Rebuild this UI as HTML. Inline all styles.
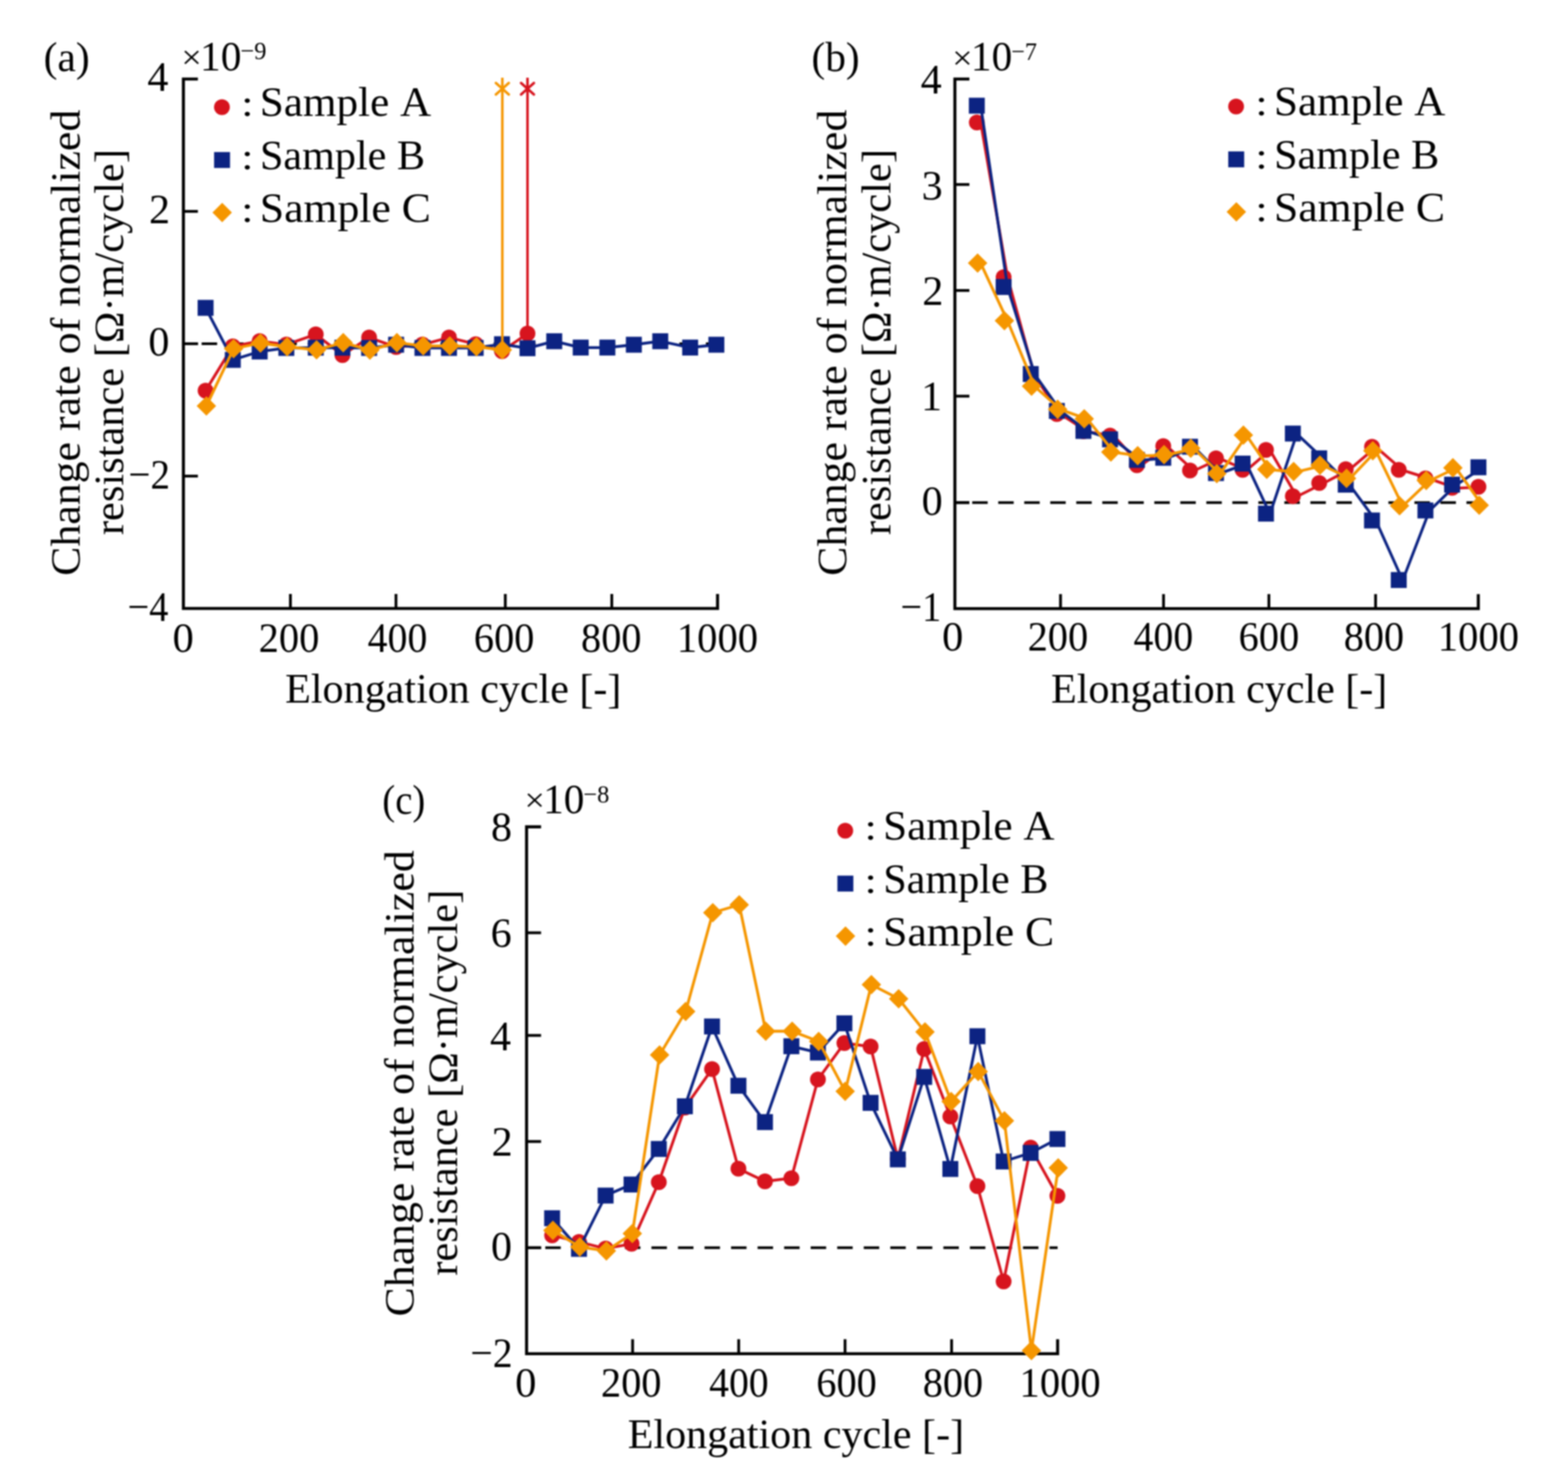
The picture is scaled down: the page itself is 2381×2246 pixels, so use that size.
<!DOCTYPE html>
<html><head><meta charset="utf-8"><title>Figure</title>
<style>html,body{margin:0;padding:0;background:#fff;} svg text{font-kerning:none;}</style>
</head><body>
<svg width="2381" height="2246" viewBox="0 0 2381 2246" font-family="'Liberation Serif', serif" style="display:block;filter:blur(0.8px)">
<rect width="2381" height="2246" fill="#fff"/>
<path d="M300.5 120.0H278.5V924.0H1089.6V902.0" fill="none" stroke="#000" stroke-width="4.6" stroke-linejoin="miter" stroke-linecap="butt"/>
<line x1="278.5" y1="321.0" x2="300.5" y2="321.0" stroke="#000" stroke-width="4.23"/>
<line x1="278.5" y1="522.0" x2="300.5" y2="522.0" stroke="#000" stroke-width="4.23"/>
<line x1="278.5" y1="723.0" x2="300.5" y2="723.0" stroke="#000" stroke-width="4.23"/>
<line x1="441.0" y1="924.0" x2="441.0" y2="902.0" stroke="#000" stroke-width="4.23"/>
<line x1="601.3" y1="924.0" x2="601.3" y2="902.0" stroke="#000" stroke-width="4.23"/>
<line x1="767.3" y1="924.0" x2="767.3" y2="902.0" stroke="#000" stroke-width="4.23"/>
<line x1="929.0" y1="924.0" x2="929.0" y2="902.0" stroke="#000" stroke-width="4.23"/>
<line x1="278.5" y1="522.0" x2="300.5" y2="522.0" stroke="#000" stroke-width="4.0"/>
<line x1="306.2" y1="522.0" x2="1089.6" y2="522.0" stroke="#000" stroke-width="4.0" stroke-dasharray="23.5 16.8"/>
<line x1="801" y1="506.6" x2="801" y2="118" stroke="#D7141E" stroke-width="3.8"/>
<path d="M791.2 126L810.8 143.5M791.2 143.5L810.8 126" stroke="#D7141E" stroke-width="3.8" stroke-linecap="round"/>
<polyline points="312.2,593.2 353.5,526.0 394.3,517.9 434.8,523.3 479.5,507.8 520.0,539.2 560.5,512.6 601.5,527.0 641.5,523.3 681.8,512.5 722.3,522.7 762.3,533.2 801.0,506.6" fill="none" stroke="#D7141E" stroke-width="4.3" stroke-linejoin="round"/>
<circle cx="312.2" cy="593.2" r="12.0" fill="#D7141E"/>
<circle cx="353.5" cy="526.0" r="12.0" fill="#D7141E"/>
<circle cx="394.3" cy="517.9" r="12.0" fill="#D7141E"/>
<circle cx="434.8" cy="523.3" r="12.0" fill="#D7141E"/>
<circle cx="479.5" cy="507.8" r="12.0" fill="#D7141E"/>
<circle cx="520.0" cy="539.2" r="12.0" fill="#D7141E"/>
<circle cx="560.5" cy="512.6" r="12.0" fill="#D7141E"/>
<circle cx="601.5" cy="527.0" r="12.0" fill="#D7141E"/>
<circle cx="641.5" cy="523.3" r="12.0" fill="#D7141E"/>
<circle cx="681.8" cy="512.5" r="12.0" fill="#D7141E"/>
<circle cx="722.3" cy="522.7" r="12.0" fill="#D7141E"/>
<circle cx="762.3" cy="533.2" r="12.0" fill="#D7141E"/>
<circle cx="801.0" cy="506.6" r="12.0" fill="#D7141E"/>
<polyline points="312.2,467.5 353.5,546.5 394.3,533.8 434.8,528.4 479.5,528.0 520.0,528.0 560.5,528.4 601.5,523.5 641.5,528.4 681.8,528.4 722.3,528.4 762.3,522.7 801.0,528.8 841.6,518.2 881.8,527.8 922.3,527.8 962.5,523.5 1002.6,518.2 1048.0,527.8 1087.8,523.5" fill="none" stroke="#0C2382" stroke-width="4.3" stroke-linejoin="round"/>
<rect x="300.1" y="455.4" width="24.2" height="24.2" fill="#0C2382"/>
<rect x="341.4" y="534.4" width="24.2" height="24.2" fill="#0C2382"/>
<rect x="382.2" y="521.7" width="24.2" height="24.2" fill="#0C2382"/>
<rect x="422.7" y="516.3" width="24.2" height="24.2" fill="#0C2382"/>
<rect x="467.4" y="515.9" width="24.2" height="24.2" fill="#0C2382"/>
<rect x="507.9" y="515.9" width="24.2" height="24.2" fill="#0C2382"/>
<rect x="548.4" y="516.3" width="24.2" height="24.2" fill="#0C2382"/>
<rect x="589.4" y="511.4" width="24.2" height="24.2" fill="#0C2382"/>
<rect x="629.4" y="516.3" width="24.2" height="24.2" fill="#0C2382"/>
<rect x="669.7" y="516.3" width="24.2" height="24.2" fill="#0C2382"/>
<rect x="710.2" y="516.3" width="24.2" height="24.2" fill="#0C2382"/>
<rect x="750.2" y="510.6" width="24.2" height="24.2" fill="#0C2382"/>
<rect x="788.9" y="516.7" width="24.2" height="24.2" fill="#0C2382"/>
<rect x="829.5" y="506.1" width="24.2" height="24.2" fill="#0C2382"/>
<rect x="869.7" y="515.7" width="24.2" height="24.2" fill="#0C2382"/>
<rect x="910.2" y="515.7" width="24.2" height="24.2" fill="#0C2382"/>
<rect x="950.4" y="511.4" width="24.2" height="24.2" fill="#0C2382"/>
<rect x="990.5" y="506.1" width="24.2" height="24.2" fill="#0C2382"/>
<rect x="1035.9" y="515.7" width="24.2" height="24.2" fill="#0C2382"/>
<rect x="1075.7" y="511.4" width="24.2" height="24.2" fill="#0C2382"/>
<line x1="762.8" y1="531.3" x2="762.8" y2="118" stroke="#F59600" stroke-width="3.8"/>
<path d="M753.0 126L772.5999999999999 143.5M753.0 143.5L772.5999999999999 126" stroke="#F59600" stroke-width="3.8" stroke-linecap="round"/>
<polyline points="313.4,616.5 354.7,529.5 395.5,521.0 436.0,526.5 480.7,531.3 521.2,520.4 561.7,531.6 602.7,520.4 642.7,525.3 683.0,525.3 723.5,526.5 762.8,531.3" fill="none" stroke="#F59600" stroke-width="4.3" stroke-linejoin="round"/>
<path d="M313.4 601.7L328.2 616.5L313.4 631.3L298.6 616.5Z" fill="#F59600"/>
<path d="M354.7 514.7L369.5 529.5L354.7 544.3L339.9 529.5Z" fill="#F59600"/>
<path d="M395.5 506.2L410.3 521.0L395.5 535.8L380.7 521.0Z" fill="#F59600"/>
<path d="M436.0 511.7L450.8 526.5L436.0 541.3L421.2 526.5Z" fill="#F59600"/>
<path d="M480.7 516.5L495.5 531.3L480.7 546.1L465.9 531.3Z" fill="#F59600"/>
<path d="M521.2 505.6L536.0 520.4L521.2 535.2L506.4 520.4Z" fill="#F59600"/>
<path d="M561.7 516.8L576.5 531.6L561.7 546.4L546.9 531.6Z" fill="#F59600"/>
<path d="M602.7 505.6L617.5 520.4L602.7 535.2L587.9 520.4Z" fill="#F59600"/>
<path d="M642.7 510.5L657.5 525.3L642.7 540.1L627.9 525.3Z" fill="#F59600"/>
<path d="M683.0 510.5L697.8 525.3L683.0 540.1L668.2 525.3Z" fill="#F59600"/>
<path d="M723.5 511.7L738.3 526.5L723.5 541.3L708.7 526.5Z" fill="#F59600"/>
<path d="M762.8 516.5L777.6 531.3L762.8 546.1L748.0 531.3Z" fill="#F59600"/>
<circle cx="337.0" cy="162.8" r="12.0" fill="#D7141E"/>
<rect x="325.1" y="230.9" width="24.2" height="24.2" fill="#0C2382"/>
<path d="M337.4 308.0L352.2 322.8L337.4 337.6L322.6 322.8Z" fill="#F59600"/>
<text transform="translate(366.24,175.80) scale(1.05,0.88)" x="0" y="0" font-size="64">:</text>
<text x="394.62" y="175.80" font-size="64" textLength="260.16" lengthAdjust="spacingAndGlyphs">Sample A</text>
<text transform="translate(366.24,256.80) scale(1.05,0.88)" x="0" y="0" font-size="64">:</text>
<text x="394.72" y="256.80" font-size="64" textLength="250.60" lengthAdjust="spacingAndGlyphs">Sample B</text>
<text transform="translate(366.24,336.80) scale(1.05,0.88)" x="0" y="0" font-size="64">:</text>
<text x="394.56" y="336.80" font-size="64" textLength="259.69" lengthAdjust="spacingAndGlyphs">Sample C</text>
<text x="223.80" y="137.60" font-size="64">4</text>
<text x="226.33" y="338.60" font-size="64">2</text>
<text x="225.24" y="540.40" font-size="64">0</text>
<text x="194.94" y="741.60" font-size="64" textLength="63.13" lengthAdjust="spacingAndGlyphs">−2</text>
<text x="193.70" y="943.00" font-size="64" textLength="62.01" lengthAdjust="spacingAndGlyphs">−4</text>
<text x="261.94" y="989.60" font-size="64" textLength="32.32" lengthAdjust="spacingAndGlyphs">0</text>
<text x="392.80" y="989.60" font-size="64" textLength="92.03" lengthAdjust="spacingAndGlyphs">200</text>
<text x="558.32" y="989.60" font-size="64" textLength="90.48" lengthAdjust="spacingAndGlyphs">400</text>
<text x="719.47" y="989.60" font-size="64" textLength="91.97" lengthAdjust="spacingAndGlyphs">600</text>
<text x="882.37" y="989.60" font-size="64" textLength="91.65" lengthAdjust="spacingAndGlyphs">800</text>
<text x="1027.78" y="989.60" font-size="64" textLength="123.37" lengthAdjust="spacingAndGlyphs">1000</text>
<text x="433.06" y="1066.60" font-size="64" textLength="510.58" lengthAdjust="spacingAndGlyphs">Elongation cycle [-]</text>
<text transform="translate(120.50,871.80) rotate(-90)" x="-2.73" y="0" font-size="64" textLength="707.94" lengthAdjust="spacingAndGlyphs">Change rate of normalized</text>
<text transform="translate(187.20,811.30) rotate(-90)" x="-1.29" y="0" font-size="64" textLength="586.17" lengthAdjust="spacingAndGlyphs">resistance [Ω·m/cycle]</text>
<text x="66.33" y="107.50" font-size="64" textLength="69.94" lengthAdjust="spacingAndGlyphs">(a)</text>
<text x="275.58" y="104.10" font-size="51" textLength="30.78" lengthAdjust="spacingAndGlyphs">×</text>
<text x="303.79" y="106.60" font-size="64" textLength="62.70" lengthAdjust="spacingAndGlyphs">10</text>
<text x="364.95" y="90.30" font-size="38" textLength="39.58" lengthAdjust="spacingAndGlyphs">−9</text>
<path d="M1472.0 120.0H1450.0V924.2H2244.8V902.2" fill="none" stroke="#000" stroke-width="4.6" stroke-linejoin="miter" stroke-linecap="butt"/>
<line x1="1450.0" y1="280.2" x2="1472.0" y2="280.2" stroke="#000" stroke-width="4.23"/>
<line x1="1450.0" y1="441.1" x2="1472.0" y2="441.1" stroke="#000" stroke-width="4.23"/>
<line x1="1450.0" y1="601.6" x2="1472.0" y2="601.6" stroke="#000" stroke-width="4.23"/>
<line x1="1450.0" y1="763.2" x2="1472.0" y2="763.2" stroke="#000" stroke-width="4.23"/>
<line x1="1610.4" y1="924.2" x2="1610.4" y2="902.2" stroke="#000" stroke-width="4.23"/>
<line x1="1766.8" y1="924.2" x2="1766.8" y2="902.2" stroke="#000" stroke-width="4.23"/>
<line x1="1926.8" y1="924.2" x2="1926.8" y2="902.2" stroke="#000" stroke-width="4.23"/>
<line x1="2088.8" y1="924.2" x2="2088.8" y2="902.2" stroke="#000" stroke-width="4.23"/>
<line x1="1450.0" y1="763.3" x2="1472.0" y2="763.3" stroke="#000" stroke-width="4.0"/>
<line x1="1476.3" y1="763.3" x2="2245.0" y2="763.3" stroke="#000" stroke-width="4.0" stroke-dasharray="23.5 16.0"/>
<polyline points="1489.3,186.6 1530.0,421.4 1571.2,571.5 1610.8,629.3 1651.2,655.5 1691.6,662.1 1732.4,706.9 1772.4,678.1 1813.0,714.9 1852.5,696.5 1892.9,714.1 1928.4,683.7 1969.2,754.1 2009.2,734.1 2049.5,712.9 2089.4,678.9 2130.0,714.1 2170.5,726.9 2211.0,741.3 2251.0,739.7" fill="none" stroke="#D7141E" stroke-width="4.3" stroke-linejoin="round"/>
<circle cx="1483.3" cy="186.1" r="12.0" fill="#D7141E"/>
<circle cx="1524.0" cy="420.9" r="12.0" fill="#D7141E"/>
<circle cx="1565.2" cy="571.0" r="12.0" fill="#D7141E"/>
<circle cx="1604.8" cy="628.8" r="12.0" fill="#D7141E"/>
<circle cx="1645.2" cy="655.0" r="12.0" fill="#D7141E"/>
<circle cx="1685.6" cy="661.6" r="12.0" fill="#D7141E"/>
<circle cx="1726.4" cy="706.4" r="12.0" fill="#D7141E"/>
<circle cx="1766.4" cy="677.6" r="12.0" fill="#D7141E"/>
<circle cx="1807.0" cy="714.4" r="12.0" fill="#D7141E"/>
<circle cx="1846.5" cy="696.0" r="12.0" fill="#D7141E"/>
<circle cx="1886.9" cy="713.6" r="12.0" fill="#D7141E"/>
<circle cx="1922.4" cy="683.2" r="12.0" fill="#D7141E"/>
<circle cx="1963.2" cy="753.6" r="12.0" fill="#D7141E"/>
<circle cx="2003.2" cy="733.6" r="12.0" fill="#D7141E"/>
<circle cx="2043.5" cy="712.4" r="12.0" fill="#D7141E"/>
<circle cx="2083.4" cy="678.4" r="12.0" fill="#D7141E"/>
<circle cx="2124.0" cy="713.6" r="12.0" fill="#D7141E"/>
<circle cx="2164.5" cy="726.4" r="12.0" fill="#D7141E"/>
<circle cx="2205.0" cy="740.8" r="12.0" fill="#D7141E"/>
<circle cx="2245.0" cy="739.2" r="12.0" fill="#D7141E"/>
<polyline points="1489.3,161.0 1530.0,436.3 1571.2,568.5 1610.8,624.5 1651.2,654.9 1691.6,667.7 1732.4,698.9 1772.4,695.7 1813.0,678.9 1852.5,718.9 1892.9,704.5 1928.4,780.5 1969.2,658.9 2009.2,696.5 2049.5,736.5 2089.4,790.9 2130.0,881.3 2170.5,775.7 2211.0,736.5 2251.0,710.1" fill="none" stroke="#0C2382" stroke-width="4.3" stroke-linejoin="round"/>
<rect x="1471.2" y="148.4" width="24.2" height="24.2" fill="#0C2382"/>
<rect x="1511.9" y="423.7" width="24.2" height="24.2" fill="#0C2382"/>
<rect x="1553.1" y="555.9" width="24.2" height="24.2" fill="#0C2382"/>
<rect x="1592.7" y="611.9" width="24.2" height="24.2" fill="#0C2382"/>
<rect x="1633.1" y="642.3" width="24.2" height="24.2" fill="#0C2382"/>
<rect x="1673.5" y="655.1" width="24.2" height="24.2" fill="#0C2382"/>
<rect x="1714.3" y="686.3" width="24.2" height="24.2" fill="#0C2382"/>
<rect x="1754.3" y="683.1" width="24.2" height="24.2" fill="#0C2382"/>
<rect x="1794.9" y="666.3" width="24.2" height="24.2" fill="#0C2382"/>
<rect x="1834.4" y="706.3" width="24.2" height="24.2" fill="#0C2382"/>
<rect x="1874.8" y="691.9" width="24.2" height="24.2" fill="#0C2382"/>
<rect x="1910.3" y="767.9" width="24.2" height="24.2" fill="#0C2382"/>
<rect x="1951.1" y="646.3" width="24.2" height="24.2" fill="#0C2382"/>
<rect x="1991.1" y="683.9" width="24.2" height="24.2" fill="#0C2382"/>
<rect x="2031.4" y="723.9" width="24.2" height="24.2" fill="#0C2382"/>
<rect x="2071.3" y="778.3" width="24.2" height="24.2" fill="#0C2382"/>
<rect x="2111.9" y="868.7" width="24.2" height="24.2" fill="#0C2382"/>
<rect x="2152.4" y="763.1" width="24.2" height="24.2" fill="#0C2382"/>
<rect x="2192.9" y="723.9" width="24.2" height="24.2" fill="#0C2382"/>
<rect x="2232.9" y="697.5" width="24.2" height="24.2" fill="#0C2382"/>
<polyline points="1489.3,400.0 1530.0,487.5 1571.2,586.9 1610.8,622.1 1651.2,636.5 1691.6,686.9 1732.4,692.5 1772.4,690.9 1813.0,681.3 1852.5,719.7 1892.9,661.3 1928.4,713.3 1969.2,716.5 2009.2,706.9 2049.5,726.9 2089.4,685.0 2130.0,768.5 2170.5,730.1 2211.0,710.9 2251.0,767.7" fill="none" stroke="#F59600" stroke-width="4.3" stroke-linejoin="round"/>
<path d="M1484.5 384.7L1499.3 399.5L1484.5 414.3L1469.7 399.5Z" fill="#F59600"/>
<path d="M1525.2 472.2L1540.0 487.0L1525.2 501.8L1510.4 487.0Z" fill="#F59600"/>
<path d="M1566.4 571.6L1581.2 586.4L1566.4 601.2L1551.6 586.4Z" fill="#F59600"/>
<path d="M1606.0 606.8L1620.8 621.6L1606.0 636.4L1591.2 621.6Z" fill="#F59600"/>
<path d="M1646.4 621.2L1661.2 636.0L1646.4 650.8L1631.6 636.0Z" fill="#F59600"/>
<path d="M1686.8 671.6L1701.6 686.4L1686.8 701.2L1672.0 686.4Z" fill="#F59600"/>
<path d="M1727.6 677.2L1742.4 692.0L1727.6 706.8L1712.8 692.0Z" fill="#F59600"/>
<path d="M1767.6 675.6L1782.4 690.4L1767.6 705.2L1752.8 690.4Z" fill="#F59600"/>
<path d="M1808.2 666.0L1823.0 680.8L1808.2 695.6L1793.4 680.8Z" fill="#F59600"/>
<path d="M1847.7 704.4L1862.5 719.2L1847.7 734.0L1832.9 719.2Z" fill="#F59600"/>
<path d="M1888.1 646.0L1902.9 660.8L1888.1 675.6L1873.3 660.8Z" fill="#F59600"/>
<path d="M1923.6 698.0L1938.4 712.8L1923.6 727.6L1908.8 712.8Z" fill="#F59600"/>
<path d="M1964.4 701.2L1979.2 716.0L1964.4 730.8L1949.6 716.0Z" fill="#F59600"/>
<path d="M2004.4 691.6L2019.2 706.4L2004.4 721.2L1989.6 706.4Z" fill="#F59600"/>
<path d="M2044.7 711.6L2059.5 726.4L2044.7 741.2L2029.9 726.4Z" fill="#F59600"/>
<path d="M2084.6 669.7L2099.4 684.5L2084.6 699.3L2069.8 684.5Z" fill="#F59600"/>
<path d="M2125.2 753.2L2140.0 768.0L2125.2 782.8L2110.4 768.0Z" fill="#F59600"/>
<path d="M2165.7 714.8L2180.5 729.6L2165.7 744.4L2150.9 729.6Z" fill="#F59600"/>
<path d="M2206.2 695.6L2221.0 710.4L2206.2 725.2L2191.4 710.4Z" fill="#F59600"/>
<path d="M2246.2 752.4L2261.0 767.2L2246.2 782.0L2231.4 767.2Z" fill="#F59600"/>
<circle cx="1877.0" cy="161.8" r="12.0" fill="#D7141E"/>
<rect x="1865.1" y="229.9" width="24.2" height="24.2" fill="#0C2382"/>
<path d="M1877.4 307.0L1892.2 321.8L1877.4 336.6L1862.6 321.8Z" fill="#F59600"/>
<text transform="translate(1906.24,174.80) scale(1.05,0.88)" x="0" y="0" font-size="64">:</text>
<text x="1934.62" y="174.80" font-size="64" textLength="260.16" lengthAdjust="spacingAndGlyphs">Sample A</text>
<text transform="translate(1906.24,255.80) scale(1.05,0.88)" x="0" y="0" font-size="64">:</text>
<text x="1934.72" y="255.80" font-size="64" textLength="250.60" lengthAdjust="spacingAndGlyphs">Sample B</text>
<text transform="translate(1906.24,335.80) scale(1.05,0.88)" x="0" y="0" font-size="64">:</text>
<text x="1934.56" y="335.80" font-size="64" textLength="259.69" lengthAdjust="spacingAndGlyphs">Sample C</text>
<text x="1398.00" y="141.50" font-size="64">4</text>
<text x="1399.50" y="302.70" font-size="64">3</text>
<text x="1400.53" y="463.00" font-size="64">2</text>
<text x="1398.73" y="622.50" font-size="64" textLength="31.67" lengthAdjust="spacingAndGlyphs">1</text>
<text x="1399.44" y="782.00" font-size="64">0</text>
<text x="1367.52" y="943.20" font-size="64" textLength="61.56" lengthAdjust="spacingAndGlyphs">−1</text>
<text x="1430.64" y="988.00" font-size="64" textLength="32.32" lengthAdjust="spacingAndGlyphs">0</text>
<text x="1560.40" y="988.00" font-size="64" textLength="92.03" lengthAdjust="spacingAndGlyphs">200</text>
<text x="1721.32" y="988.00" font-size="64" textLength="90.48" lengthAdjust="spacingAndGlyphs">400</text>
<text x="1880.87" y="988.00" font-size="64" textLength="91.97" lengthAdjust="spacingAndGlyphs">600</text>
<text x="2040.47" y="988.00" font-size="64" textLength="91.65" lengthAdjust="spacingAndGlyphs">800</text>
<text x="2183.28" y="988.00" font-size="64" textLength="123.37" lengthAdjust="spacingAndGlyphs">1000</text>
<text x="1596.06" y="1066.60" font-size="64" textLength="510.58" lengthAdjust="spacingAndGlyphs">Elongation cycle [-]</text>
<text transform="translate(1284.80,871.80) rotate(-90)" x="-2.73" y="0" font-size="64" textLength="707.94" lengthAdjust="spacingAndGlyphs">Change rate of normalized</text>
<text transform="translate(1351.50,811.30) rotate(-90)" x="-1.29" y="0" font-size="64" textLength="586.17" lengthAdjust="spacingAndGlyphs">resistance [Ω·m/cycle]</text>
<text x="1232.35" y="107.50" font-size="64" textLength="72.89" lengthAdjust="spacingAndGlyphs">(b)</text>
<text x="1446.08" y="104.60" font-size="51" textLength="30.78" lengthAdjust="spacingAndGlyphs">×</text>
<text x="1474.29" y="107.10" font-size="64" textLength="62.70" lengthAdjust="spacingAndGlyphs">10</text>
<text x="1535.47" y="90.80" font-size="38" textLength="39.09" lengthAdjust="spacingAndGlyphs">−7</text>
<path d="M821.6 1255.6H799.6V2055.7H1606.0V2033.7" fill="none" stroke="#000" stroke-width="4.6" stroke-linejoin="miter" stroke-linecap="butt"/>
<line x1="799.6" y1="1416.5" x2="821.6" y2="1416.5" stroke="#000" stroke-width="4.23"/>
<line x1="799.6" y1="1572.4" x2="821.6" y2="1572.4" stroke="#000" stroke-width="4.23"/>
<line x1="799.6" y1="1733.5" x2="821.6" y2="1733.5" stroke="#000" stroke-width="4.23"/>
<line x1="799.6" y1="1894.8" x2="821.6" y2="1894.8" stroke="#000" stroke-width="4.23"/>
<line x1="960.6" y1="2055.7" x2="960.6" y2="2033.7" stroke="#000" stroke-width="4.23"/>
<line x1="1121.7" y1="2055.7" x2="1121.7" y2="2033.7" stroke="#000" stroke-width="4.23"/>
<line x1="1283.2" y1="2055.7" x2="1283.2" y2="2033.7" stroke="#000" stroke-width="4.23"/>
<line x1="1445.0" y1="2055.7" x2="1445.0" y2="2033.7" stroke="#000" stroke-width="4.23"/>
<line x1="799.6" y1="1894.8" x2="821.6" y2="1894.8" stroke="#000" stroke-width="4.0"/>
<line x1="828.0" y1="1894.8" x2="1606.0" y2="1894.8" stroke="#000" stroke-width="4.0" stroke-dasharray="23.5 16.8"/>
<polyline points="838.4,1876.0 879.2,1886.0 919.6,1896.0 959.0,1888.8 1000.4,1795.2 1040.0,1682.0 1081.2,1623.6 1121.3,1774.8 1161.6,1794.0 1201.7,1789.2 1242.0,1639.2 1282.2,1584.0 1322.0,1589.3 1363.4,1760.0 1403.4,1593.1 1443.1,1695.5 1484.2,1801.2 1524.0,1945.9 1565.0,1742.7 1605.7,1815.9" fill="none" stroke="#D7141E" stroke-width="4.3" stroke-linejoin="round"/>
<circle cx="838.4" cy="1876.0" r="12.0" fill="#D7141E"/>
<circle cx="879.2" cy="1886.0" r="12.0" fill="#D7141E"/>
<circle cx="919.6" cy="1896.0" r="12.0" fill="#D7141E"/>
<circle cx="959.0" cy="1888.8" r="12.0" fill="#D7141E"/>
<circle cx="1000.4" cy="1795.2" r="12.0" fill="#D7141E"/>
<circle cx="1040.0" cy="1682.0" r="12.0" fill="#D7141E"/>
<circle cx="1081.2" cy="1623.6" r="12.0" fill="#D7141E"/>
<circle cx="1121.3" cy="1774.8" r="12.0" fill="#D7141E"/>
<circle cx="1161.6" cy="1794.0" r="12.0" fill="#D7141E"/>
<circle cx="1201.7" cy="1789.2" r="12.0" fill="#D7141E"/>
<circle cx="1242.0" cy="1639.2" r="12.0" fill="#D7141E"/>
<circle cx="1282.2" cy="1584.0" r="12.0" fill="#D7141E"/>
<circle cx="1322.0" cy="1589.3" r="12.0" fill="#D7141E"/>
<circle cx="1363.4" cy="1760.0" r="12.0" fill="#D7141E"/>
<circle cx="1403.4" cy="1593.1" r="12.0" fill="#D7141E"/>
<circle cx="1443.1" cy="1695.5" r="12.0" fill="#D7141E"/>
<circle cx="1484.2" cy="1801.2" r="12.0" fill="#D7141E"/>
<circle cx="1524.0" cy="1945.9" r="12.0" fill="#D7141E"/>
<circle cx="1565.0" cy="1742.7" r="12.0" fill="#D7141E"/>
<circle cx="1605.7" cy="1815.9" r="12.0" fill="#D7141E"/>
<polyline points="838.4,1850.0 879.2,1896.5 919.6,1815.6 959.0,1798.8 1000.4,1744.8 1040.0,1680.0 1081.2,1558.8 1121.3,1648.8 1161.6,1704.0 1201.7,1588.8 1242.0,1598.4 1282.2,1554.0 1322.0,1674.8 1363.4,1760.6 1403.4,1635.4 1443.1,1775.2 1484.2,1573.6 1524.0,1763.8 1565.0,1750.8 1605.7,1729.7" fill="none" stroke="#0C2382" stroke-width="4.3" stroke-linejoin="round"/>
<rect x="826.3" y="1837.9" width="24.2" height="24.2" fill="#0C2382"/>
<rect x="867.1" y="1884.4" width="24.2" height="24.2" fill="#0C2382"/>
<rect x="907.5" y="1803.5" width="24.2" height="24.2" fill="#0C2382"/>
<rect x="946.9" y="1786.7" width="24.2" height="24.2" fill="#0C2382"/>
<rect x="988.3" y="1732.7" width="24.2" height="24.2" fill="#0C2382"/>
<rect x="1027.9" y="1667.9" width="24.2" height="24.2" fill="#0C2382"/>
<rect x="1069.1" y="1546.7" width="24.2" height="24.2" fill="#0C2382"/>
<rect x="1109.2" y="1636.7" width="24.2" height="24.2" fill="#0C2382"/>
<rect x="1149.5" y="1691.9" width="24.2" height="24.2" fill="#0C2382"/>
<rect x="1189.6" y="1576.7" width="24.2" height="24.2" fill="#0C2382"/>
<rect x="1229.9" y="1586.3" width="24.2" height="24.2" fill="#0C2382"/>
<rect x="1270.1" y="1541.9" width="24.2" height="24.2" fill="#0C2382"/>
<rect x="1309.9" y="1662.7" width="24.2" height="24.2" fill="#0C2382"/>
<rect x="1351.3" y="1748.5" width="24.2" height="24.2" fill="#0C2382"/>
<rect x="1391.3" y="1623.3" width="24.2" height="24.2" fill="#0C2382"/>
<rect x="1431.0" y="1763.1" width="24.2" height="24.2" fill="#0C2382"/>
<rect x="1472.1" y="1561.5" width="24.2" height="24.2" fill="#0C2382"/>
<rect x="1511.9" y="1751.7" width="24.2" height="24.2" fill="#0C2382"/>
<rect x="1552.9" y="1738.7" width="24.2" height="24.2" fill="#0C2382"/>
<rect x="1593.6" y="1717.6" width="24.2" height="24.2" fill="#0C2382"/>
<polyline points="839.6,1868.4 880.4,1893.6 920.8,1899.6 960.2,1873.2 1001.6,1602.0 1041.2,1536.0 1082.4,1386.0 1122.5,1374.0 1162.8,1566.0 1202.9,1566.0 1243.2,1581.6 1283.4,1657.2 1323.2,1495.3 1364.6,1516.7 1404.6,1567.1 1444.3,1672.8 1485.4,1627.2 1525.2,1702.0 1566.2,2051.0 1606.9,1773.6" fill="none" stroke="#F59600" stroke-width="4.3" stroke-linejoin="round"/>
<path d="M839.6 1853.6L854.4 1868.4L839.6 1883.2L824.8 1868.4Z" fill="#F59600"/>
<path d="M880.4 1878.8L895.2 1893.6L880.4 1908.4L865.6 1893.6Z" fill="#F59600"/>
<path d="M920.8 1884.8L935.6 1899.6L920.8 1914.4L906.0 1899.6Z" fill="#F59600"/>
<path d="M960.2 1858.4L975.0 1873.2L960.2 1888.0L945.4 1873.2Z" fill="#F59600"/>
<path d="M1001.6 1587.2L1016.4 1602.0L1001.6 1616.8L986.8 1602.0Z" fill="#F59600"/>
<path d="M1041.2 1521.2L1056.0 1536.0L1041.2 1550.8L1026.4 1536.0Z" fill="#F59600"/>
<path d="M1082.4 1371.2L1097.2 1386.0L1082.4 1400.8L1067.6 1386.0Z" fill="#F59600"/>
<path d="M1122.5 1359.2L1137.3 1374.0L1122.5 1388.8L1107.7 1374.0Z" fill="#F59600"/>
<path d="M1162.8 1551.2L1177.6 1566.0L1162.8 1580.8L1148.0 1566.0Z" fill="#F59600"/>
<path d="M1202.9 1551.2L1217.7 1566.0L1202.9 1580.8L1188.1 1566.0Z" fill="#F59600"/>
<path d="M1243.2 1566.8L1258.0 1581.6L1243.2 1596.4L1228.4 1581.6Z" fill="#F59600"/>
<path d="M1283.4 1642.4L1298.2 1657.2L1283.4 1672.0L1268.6 1657.2Z" fill="#F59600"/>
<path d="M1323.2 1480.5L1338.0 1495.3L1323.2 1510.1L1308.4 1495.3Z" fill="#F59600"/>
<path d="M1364.6 1501.9L1379.4 1516.7L1364.6 1531.5L1349.8 1516.7Z" fill="#F59600"/>
<path d="M1404.6 1552.3L1419.4 1567.1L1404.6 1581.9L1389.8 1567.1Z" fill="#F59600"/>
<path d="M1444.3 1658.0L1459.1 1672.8L1444.3 1687.6L1429.5 1672.8Z" fill="#F59600"/>
<path d="M1485.4 1612.4L1500.2 1627.2L1485.4 1642.0L1470.6 1627.2Z" fill="#F59600"/>
<path d="M1525.2 1687.2L1540.0 1702.0L1525.2 1716.8L1510.4 1702.0Z" fill="#F59600"/>
<path d="M1566.2 2036.2L1581.0 2051.0L1566.2 2065.8L1551.4 2051.0Z" fill="#F59600"/>
<path d="M1606.9 1758.8L1621.7 1773.6L1606.9 1788.4L1592.1 1773.6Z" fill="#F59600"/>
<circle cx="1283.5" cy="1261.6" r="12.0" fill="#D7141E"/>
<rect x="1271.6" y="1329.7" width="24.2" height="24.2" fill="#0C2382"/>
<path d="M1283.9 1406.8L1298.7 1421.6L1283.9 1436.4L1269.1 1421.6Z" fill="#F59600"/>
<text transform="translate(1312.74,1274.60) scale(1.05,0.88)" x="0" y="0" font-size="64">:</text>
<text x="1341.12" y="1274.60" font-size="64" textLength="260.16" lengthAdjust="spacingAndGlyphs">Sample A</text>
<text transform="translate(1312.74,1355.60) scale(1.05,0.88)" x="0" y="0" font-size="64">:</text>
<text x="1341.22" y="1355.60" font-size="64" textLength="250.60" lengthAdjust="spacingAndGlyphs">Sample B</text>
<text transform="translate(1312.74,1435.60) scale(1.05,0.88)" x="0" y="0" font-size="64">:</text>
<text x="1341.06" y="1435.60" font-size="64" textLength="259.69" lengthAdjust="spacingAndGlyphs">Sample C</text>
<text x="745.44" y="1276.80" font-size="64">8</text>
<text x="744.91" y="1437.60" font-size="64">6</text>
<text x="744.00" y="1595.00" font-size="64">4</text>
<text x="746.53" y="1755.30" font-size="64">2</text>
<text x="745.44" y="1914.20" font-size="64">0</text>
<text x="714.20" y="2076.20" font-size="64" textLength="64.13" lengthAdjust="spacingAndGlyphs">−2</text>
<text x="782.34" y="2121.40" font-size="64" textLength="32.32" lengthAdjust="spacingAndGlyphs">0</text>
<text x="912.50" y="2121.40" font-size="64" textLength="92.03" lengthAdjust="spacingAndGlyphs">200</text>
<text x="1076.72" y="2121.40" font-size="64" textLength="90.48" lengthAdjust="spacingAndGlyphs">400</text>
<text x="1239.47" y="2121.40" font-size="64" textLength="91.97" lengthAdjust="spacingAndGlyphs">600</text>
<text x="1401.27" y="2121.40" font-size="64" textLength="91.65" lengthAdjust="spacingAndGlyphs">800</text>
<text x="1548.08" y="2121.40" font-size="64" textLength="123.37" lengthAdjust="spacingAndGlyphs">1000</text>
<text x="953.16" y="2199.00" font-size="64" textLength="510.78" lengthAdjust="spacingAndGlyphs">Elongation cycle [-]</text>
<text transform="translate(627.50,1996.50) rotate(-90)" x="-2.73" y="0" font-size="64" textLength="707.94" lengthAdjust="spacingAndGlyphs">Change rate of normalized</text>
<text transform="translate(694.20,1936.00) rotate(-90)" x="-1.29" y="0" font-size="64" textLength="586.17" lengthAdjust="spacingAndGlyphs">resistance [Ω·m/cycle]</text>
<text x="580.62" y="1236.00" font-size="64" textLength="65.16" lengthAdjust="spacingAndGlyphs">(c)</text>
<text x="796.48" y="1232.30" font-size="51" textLength="30.78" lengthAdjust="spacingAndGlyphs">×</text>
<text x="824.69" y="1234.80" font-size="64" textLength="62.70" lengthAdjust="spacingAndGlyphs">10</text>
<text x="885.85" y="1218.50" font-size="38" textLength="39.46" lengthAdjust="spacingAndGlyphs">−8</text>
</svg>
</body></html>
